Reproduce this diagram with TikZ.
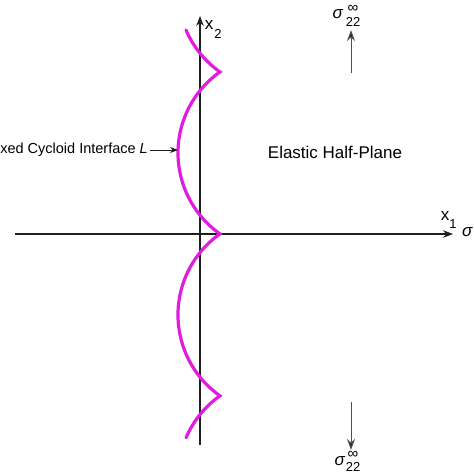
\documentclass[tikz,border=0pt]{standalone}
\usepackage{fontspec}
\setmainfont{Liberation Sans}
\usetikzlibrary{arrows.meta}
\definecolor{cyc}{RGB}{224,28,224}
\definecolor{axis}{RGB}{30,30,30}
\definecolor{load}{RGB}{80,80,80}
\tikzset{
  axisline/.style={draw=axis,line width=1.1pt,-{Stealth[length=10pt,width=7.5pt]}},
  loadline/.style={draw=load,line width=1pt,-{Stealth[length=11pt,width=8pt,fill=axis]}},
  curveline/.style={draw=cyc,line width=3.2pt,line join=miter,line cap=round},
  lbl/.style={inner sep=0pt,font=\fontsize{17}{20}\selectfont},
  sublbl/.style={inner sep=0pt,font=\fontsize{13}{15}\selectfont},
  suplbl/.style={inner sep=0pt,font=\fontsize{15}{17}\selectfont},
  leftlbl/.style={inner sep=0pt,font=\fontsize{14.5}{18}\selectfont}
}
\begin{document}
\begin{tikzpicture}[x=1pt,y=-1pt]
\useasboundingbox (0,0) rectangle (474,474);
% axes
\coordinate (x1s) at (15,234);
\coordinate (x1e) at (453,234);
\coordinate (x2s) at (200,445);
\coordinate (x2e) at (200,16);
\draw[axisline] (x1s) -- (x1e);
\draw[axisline] (x2s) -- (x2e);
% cycloid interface
\coordinate (ctop) at (186,30);
\draw[curveline] (ctop)
  arc[start angle=203.2,end angle=234.8,radius=99.1pt]
  arc[start angle=125.2,end angle=234.8,radius=99.1pt]
  arc[start angle=125.2,end angle=234.8,radius=99.1pt]
  arc[start angle=125.2,end angle=156.8,radius=99.1pt];
% labels on axes
\node[lbl] (x2l) at (209,25) {x};
\node[sublbl] (x2s2) at (218,34) {2};
\node[lbl] (x1l) at (445,216) {x};
\node[sublbl] (x1s1) at (453,224) {1};
\node[lbl,anchor=west] (sigr) at (462,232) {\textit{σ}};
% region label
\node[lbl] (region) at (335,152) {Elastic Half-Plane};
% interface label
\node[leftlbl,anchor=east] (iface) at (148,150) {xed Cycloid Interface \textit{L}};
\coordinate (ifpt) at (178,150);
\draw[draw=axis,line width=0.9pt,-{Stealth[length=8pt,width=6pt]}] ([xshift=2pt]iface.east) -- (ifpt);
% far-field loads
\coordinate (ltop0) at (351,73);
\coordinate (ltop1) at (351,30);
\draw[loadline] (ltop0) -- (ltop1);
\node[lbl] (sigt) at (338,14) {\textit{σ}};
\node[sublbl] (subt) at (353,22) {22};
\node[suplbl] (supt) at (353,9) {∞};
\coordinate (lbot0) at (351,402);
\coordinate (lbot1) at (351,450);
\draw[loadline] (lbot0) -- (lbot1);
\node[lbl] (sigb) at (340,461) {\textit{σ}};
\node[suplbl] (supb) at (353,455) {∞};
\node[sublbl] (subb) at (353,467) {22};
\end{tikzpicture}
\end{document}
